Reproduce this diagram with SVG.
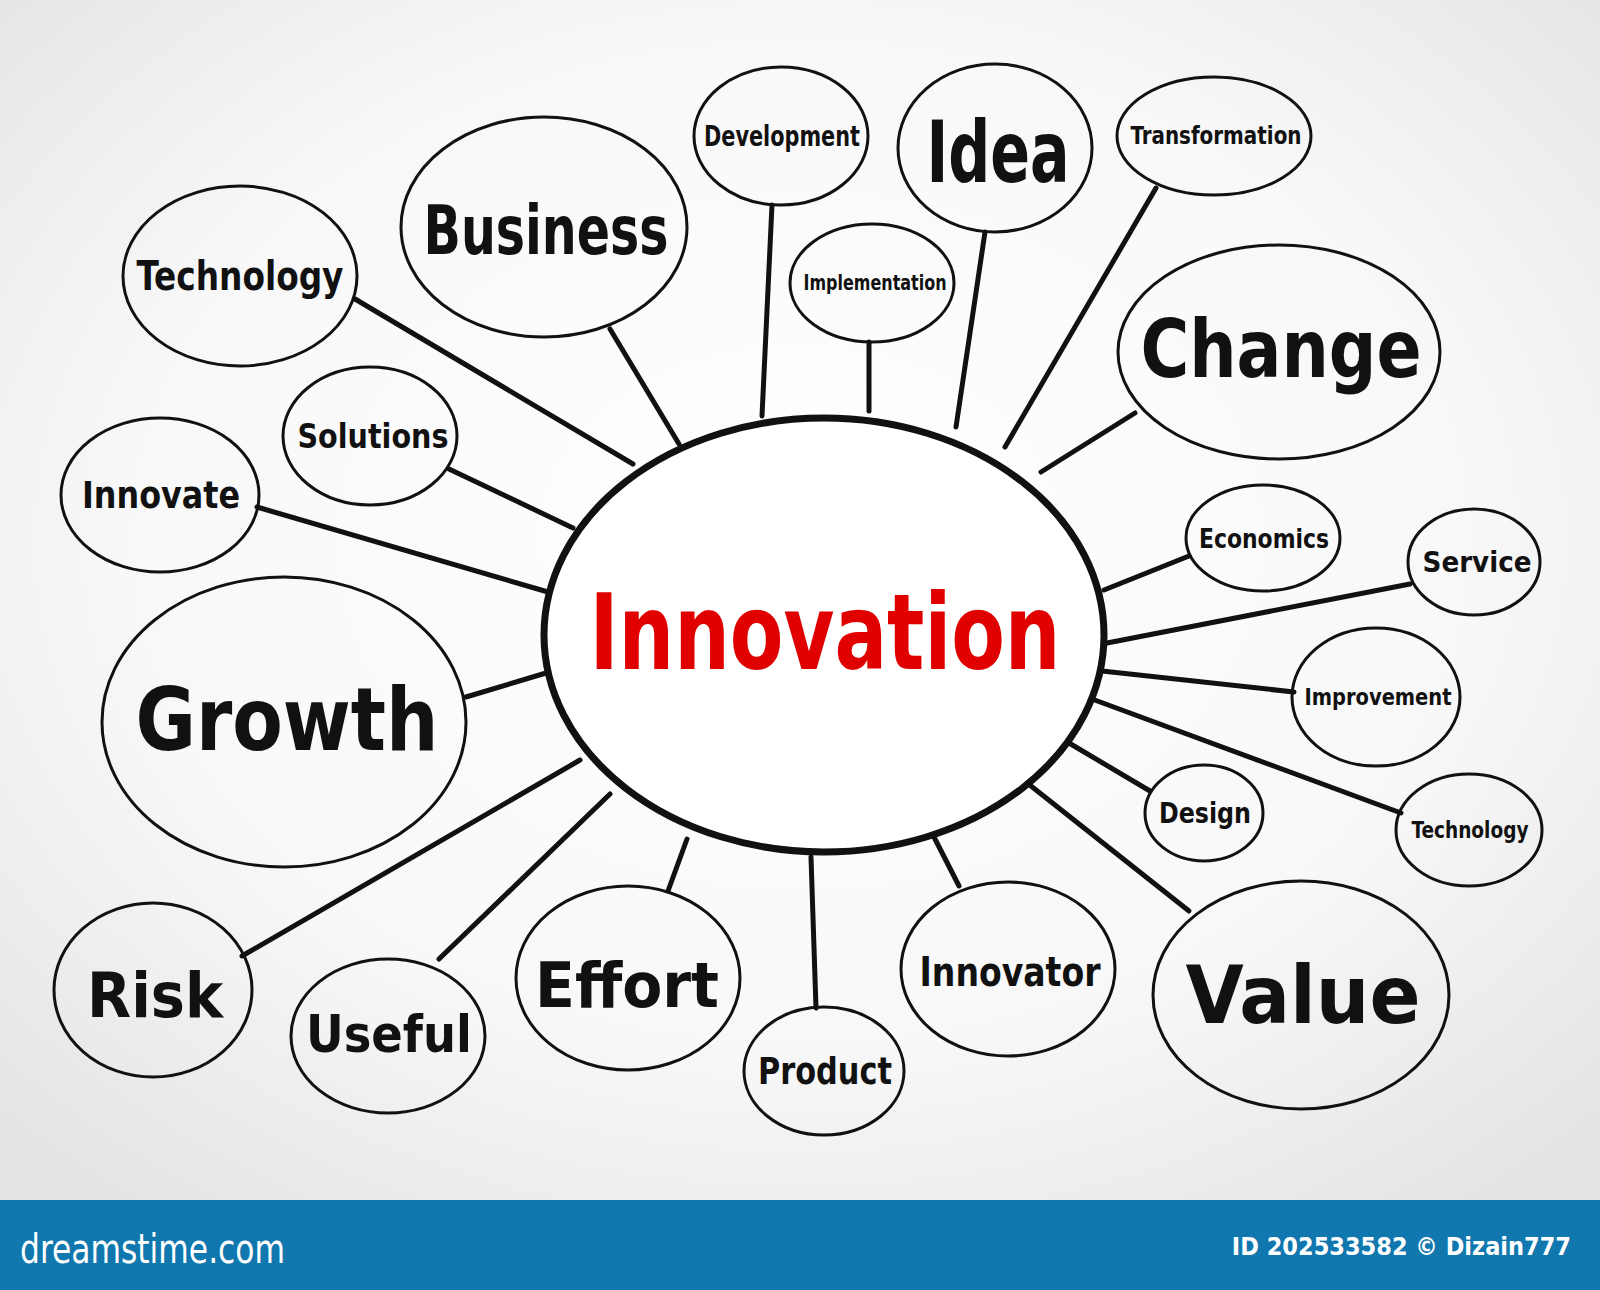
<svg xmlns="http://www.w3.org/2000/svg" width="1600" height="1290" viewBox="0 0 1600 1290">
<defs>
<radialGradient id="bg" cx="50%" cy="45%" r="70%">
<stop offset="0" stop-color="#ffffff"/>
<stop offset="0.6" stop-color="#f8f8f8"/>
<stop offset="1" stop-color="#e4e4e4"/>
</radialGradient>
<style>
.n{fill:none;stroke:#111;stroke-width:3}
.c{stroke:#111;stroke-width:5;stroke-linecap:round;fill:none}
.t{font-family:"DejaVu Sans Condensed","DejaVu Sans",sans-serif;fill:#111;text-anchor:middle;dominant-baseline:central;font-weight:bold}
.f{font-family:"DejaVu Sans Condensed","DejaVu Sans",sans-serif;fill:#fff}
</style>
</defs>
<rect x="0" y="0" width="1600" height="1200" fill="url(#bg)"/>
<rect x="0" y="1200" width="1600" height="90" fill="#1177af"/>
<g id="connectors">
<line class="c" x1="355" y1="299" x2="633" y2="464"/>
<line class="c" x1="610" y1="329" x2="679" y2="444"/>
<line class="c" x1="772" y1="205" x2="762" y2="416"/>
<line class="c" x1="869" y1="342" x2="869" y2="411"/>
<line class="c" x1="985" y1="232" x2="956" y2="427"/>
<line class="c" x1="1156" y1="188" x2="1005" y2="447"/>
<line class="c" x1="1135" y1="413" x2="1041" y2="472"/>
<line class="c" x1="449" y1="469" x2="573" y2="528"/>
<line class="c" x1="257" y1="507" x2="548" y2="592"/>
<line class="c" x1="466" y1="697" x2="546" y2="673"/>
<line class="c" x1="1189" y1="556" x2="1104" y2="590"/>
<line class="c" x1="1410" y1="584" x2="1107" y2="643"/>
<line class="c" x1="1294" y1="692" x2="1102" y2="671"/>
<line class="c" x1="1150" y1="791" x2="1069" y2="743"/>
<line class="c" x1="1401" y1="813" x2="1092" y2="699"/>
<line class="c" x1="1189" y1="911" x2="1031" y2="786"/>
<line class="c" x1="242" y1="956" x2="580" y2="760"/>
<line class="c" x1="439" y1="959" x2="610" y2="794"/>
<line class="c" x1="668" y1="891" x2="687" y2="839"/>
<line class="c" x1="816" y1="1008" x2="811" y2="857"/>
<line class="c" x1="959" y1="886" x2="934" y2="837"/>
</g>
<g id="center"><ellipse cx="824" cy="635" rx="280" ry="217" fill="#fff" stroke="#111" stroke-width="7"/>
<text x="825" y="633" font-size="105" font-weight="bold" textLength="471" lengthAdjust="spacingAndGlyphs" style="font-family:'DejaVu Sans Condensed','DejaVu Sans',sans-serif;fill:#e00000;text-anchor:middle;dominant-baseline:central">Innovation</text></g>
<g id="technology1"><ellipse class="n" cx="240" cy="276" rx="117" ry="90"/><text class="t" x="240" y="276" font-size="40" textLength="207" lengthAdjust="spacingAndGlyphs">Technology</text></g>
<g id="business"><ellipse class="n" cx="544" cy="227" rx="143" ry="110"/><text class="t" x="546" y="230" font-size="68" textLength="245" lengthAdjust="spacingAndGlyphs">Business</text></g>
<g id="development"><ellipse class="n" cx="781" cy="136" rx="87" ry="69"/><text class="t" x="782" y="136" font-size="28" textLength="156" lengthAdjust="spacingAndGlyphs">Development</text></g>
<g id="idea"><ellipse class="n" cx="995" cy="148" rx="97" ry="84"/><text class="t" x="998" y="152" font-size="85" textLength="143" lengthAdjust="spacingAndGlyphs">Idea</text></g>
<g id="transformation"><ellipse class="n" cx="1214" cy="136" rx="97" ry="59"/><text class="t" x="1216" y="136" font-size="24" textLength="171" lengthAdjust="spacingAndGlyphs">Transformation</text></g>
<g id="implementation"><ellipse class="n" cx="872" cy="283" rx="82" ry="59"/><text class="t" x="875" y="283" font-size="21" textLength="143" lengthAdjust="spacingAndGlyphs">Implementation</text></g>
<g id="change"><ellipse class="n" cx="1279" cy="352" rx="161" ry="107"/><text class="t" x="1281" y="349" font-size="80" textLength="281" lengthAdjust="spacingAndGlyphs">Change</text></g>
<g id="solutions"><ellipse class="n" cx="370" cy="436" rx="87" ry="69"/><text class="t" x="373" y="436" font-size="34" textLength="151" lengthAdjust="spacingAndGlyphs">Solutions</text></g>
<g id="innovate"><ellipse class="n" cx="160" cy="495" rx="99" ry="77"/><text class="t" x="161" y="495" font-size="38" textLength="158" lengthAdjust="spacingAndGlyphs">Innovate</text></g>
<g id="growth"><ellipse class="n" cx="284" cy="722" rx="182" ry="145"/><text class="t" x="287" y="719" font-size="88" textLength="303" lengthAdjust="spacingAndGlyphs">Growth</text></g>
<g id="economics"><ellipse class="n" cx="1263" cy="538" rx="77" ry="53"/><text class="t" x="1264" y="538" font-size="27" textLength="130" lengthAdjust="spacingAndGlyphs">Economics</text></g>
<g id="service"><ellipse class="n" cx="1474" cy="562" rx="66" ry="53"/><text class="t" x="1477" y="562" font-size="29" textLength="109" lengthAdjust="spacingAndGlyphs">Service</text></g>
<g id="improvement"><ellipse class="n" cx="1376" cy="697" rx="84" ry="69"/><text class="t" x="1378" y="697" font-size="23" textLength="147" lengthAdjust="spacingAndGlyphs">Improvement</text></g>
<g id="design"><ellipse class="n" cx="1204" cy="813" rx="59" ry="48"/><text class="t" x="1205" y="813" font-size="29" textLength="92" lengthAdjust="spacingAndGlyphs">Design</text></g>
<g id="technology2"><ellipse class="n" cx="1469" cy="830" rx="73" ry="56"/><text class="t" x="1470" y="830" font-size="23" textLength="117" lengthAdjust="spacingAndGlyphs">Technology</text></g>
<g id="risk"><ellipse class="n" cx="153" cy="990" rx="99" ry="87"/><text class="t" x="155" y="995" font-size="62" textLength="136" lengthAdjust="spacingAndGlyphs">Risk</text></g>
<g id="useful"><ellipse class="n" cx="388" cy="1036" rx="97" ry="77"/><text class="t" x="389" y="1034" font-size="52" textLength="166" lengthAdjust="spacingAndGlyphs">Useful</text></g>
<g id="effort"><ellipse class="n" cx="628" cy="978" rx="112" ry="92"/><text class="t" x="627" y="985" font-size="62" textLength="184" lengthAdjust="spacingAndGlyphs">Effort</text></g>
<g id="product"><ellipse class="n" cx="824" cy="1071" rx="80" ry="64"/><text class="t" x="825" y="1071" font-size="38" textLength="134" lengthAdjust="spacingAndGlyphs">Product</text></g>
<g id="innovator"><ellipse class="n" cx="1008" cy="969" rx="107" ry="87"/><text class="t" x="1010" y="972" font-size="40" textLength="181" lengthAdjust="spacingAndGlyphs">Innovator</text></g>
<g id="value"><ellipse class="n" cx="1301" cy="995" rx="148" ry="114"/><text class="t" x="1303" y="995" font-size="80" textLength="235" lengthAdjust="spacingAndGlyphs">Value</text></g>
<text class="f" x="20" y="1263" font-size="40" textLength="265" lengthAdjust="spacingAndGlyphs">dreamstime.com</text>
<text class="f" x="1571" y="1255" font-size="25" font-weight="bold" text-anchor="end">ID 202533582 © Dizain777</text>
</svg>
